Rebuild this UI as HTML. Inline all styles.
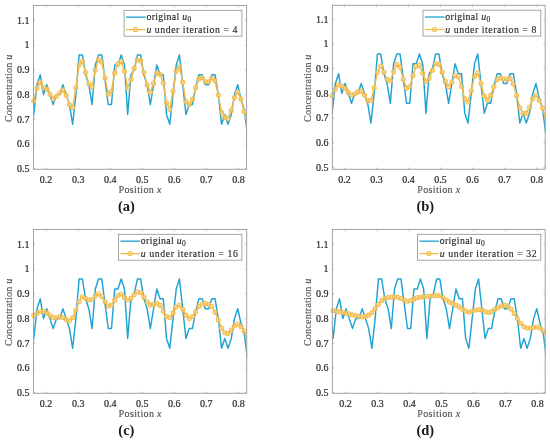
<!DOCTYPE html>
<html><head><meta charset="utf-8"><title>figure</title>
<style>
html,body{margin:0;padding:0;background:#fff;}
body{width:550px;height:441px;overflow:hidden;}
svg{display:block;}
.t{font-family:"Liberation Serif",serif;font-size:10px;fill:#2c2c2c;stroke:#2c2c2c;stroke-width:0.22px;}
.l{font-family:"Liberation Serif",serif;font-size:10.1px;fill:#4c4c4c;stroke:#4c4c4c;stroke-width:0.12px;}
.g{font-family:"Liberation Serif",serif;font-size:9.8px;fill:#262626;stroke:#262626;stroke-width:0.14px;}
.c{font-family:"Liberation Serif",serif;font-weight:bold;font-size:14.5px;fill:#1a1a1a;}
.i{font-style:italic;}
</style></head><body>
<svg width="550" height="441" viewBox="0 0 550 441">
<rect width="550" height="441" fill="#fff"/>
<clipPath id="cp0"><rect x="33.00" y="4.95" width="214.05" height="164.85"/></clipPath>
<g clip-path="url(#cp0)">
<polyline points="30.56,79.79 33.80,114.41 37.04,84.73 40.27,74.84 43.51,94.62 46.75,84.73 49.98,94.62 53.22,104.52 56.46,94.62 59.70,94.62 62.93,84.73 66.17,94.62 69.41,104.52 72.65,124.29 75.88,94.62 79.12,55.06 82.36,55.06 85.60,74.84 88.83,84.73 92.07,104.52 95.31,64.95 98.55,55.06 101.78,55.06 105.02,79.79 108.26,104.52 111.49,104.52 114.73,64.95 117.97,64.95 121.21,55.06 124.44,64.95 127.68,114.41 130.92,74.84 134.16,69.90 137.39,55.06 140.63,55.06 143.87,74.84 147.11,84.73 150.34,104.52 153.58,84.73 156.82,64.95 160.06,74.84 163.29,74.84 166.53,114.41 169.77,124.29 173.01,94.62 176.24,64.95 179.48,55.06 182.72,84.73 185.95,114.41 189.19,104.52 192.43,104.52 195.67,87.21 198.90,74.84 202.14,74.84 205.38,84.73 208.62,84.73 211.85,74.84 215.09,74.84 218.33,94.62 221.57,124.29 224.80,114.41 228.04,124.29 231.28,114.41 234.52,94.62 237.75,84.73 240.99,99.57 244.23,109.46 247.46,134.19" fill="none" stroke="#1ea3d3" stroke-width="1.45" stroke-linejoin="round"/>
<polyline points="30.56,83.40 33.80,100.75 37.04,88.00 40.27,82.62 43.51,87.57 46.75,89.16 49.98,94.30 53.22,98.83 56.46,96.20 59.70,92.79 62.93,90.11 66.17,95.34 69.41,104.50 72.65,107.55 75.88,87.70 79.12,65.09 82.36,61.54 85.60,72.22 88.83,83.77 92.07,86.50 95.31,69.94 98.55,59.66 101.78,61.97 105.02,77.82 108.26,94.04 111.49,91.23 114.73,72.92 117.97,64.15 121.21,61.49 124.44,71.29 127.68,87.67 130.92,79.18 134.16,68.16 137.39,59.69 140.63,60.70 143.87,72.20 147.11,84.68 150.34,92.20 153.58,83.25 156.82,72.85 160.06,74.38 163.29,83.10 166.53,103.05 169.77,109.26 173.01,91.00 176.24,70.81 179.48,66.27 182.72,82.36 185.95,101.46 189.19,104.56 192.43,99.33 195.67,87.85 198.90,78.84 202.14,77.78 205.38,81.70 208.62,81.72 211.85,78.07 215.09,80.76 218.33,95.04 221.57,112.40 224.80,117.34 228.04,118.34 231.28,110.30 234.52,97.45 237.75,91.97 240.99,99.11 244.23,111.38 247.46,125.30" fill="none" stroke="#f4bb48" stroke-width="1.45" stroke-linejoin="round"/>
</g>
<g fill="#fbe6b5" fill-opacity="0.35" stroke="#f4bb48" stroke-width="1.1">
<circle cx="33.80" cy="100.75" r="2.0"/><circle cx="37.04" cy="88.00" r="2.0"/><circle cx="40.27" cy="82.62" r="2.0"/><circle cx="43.51" cy="87.57" r="2.0"/><circle cx="46.75" cy="89.16" r="2.0"/><circle cx="49.98" cy="94.30" r="2.0"/><circle cx="53.22" cy="98.83" r="2.0"/><circle cx="56.46" cy="96.20" r="2.0"/><circle cx="59.70" cy="92.79" r="2.0"/><circle cx="62.93" cy="90.11" r="2.0"/><circle cx="66.17" cy="95.34" r="2.0"/><circle cx="69.41" cy="104.50" r="2.0"/><circle cx="72.65" cy="107.55" r="2.0"/><circle cx="75.88" cy="87.70" r="2.0"/><circle cx="79.12" cy="65.09" r="2.0"/><circle cx="82.36" cy="61.54" r="2.0"/><circle cx="85.60" cy="72.22" r="2.0"/><circle cx="88.83" cy="83.77" r="2.0"/><circle cx="92.07" cy="86.50" r="2.0"/><circle cx="95.31" cy="69.94" r="2.0"/><circle cx="98.55" cy="59.66" r="2.0"/><circle cx="101.78" cy="61.97" r="2.0"/><circle cx="105.02" cy="77.82" r="2.0"/><circle cx="108.26" cy="94.04" r="2.0"/><circle cx="111.49" cy="91.23" r="2.0"/><circle cx="114.73" cy="72.92" r="2.0"/><circle cx="117.97" cy="64.15" r="2.0"/><circle cx="121.21" cy="61.49" r="2.0"/><circle cx="124.44" cy="71.29" r="2.0"/><circle cx="127.68" cy="87.67" r="2.0"/><circle cx="130.92" cy="79.18" r="2.0"/><circle cx="134.16" cy="68.16" r="2.0"/><circle cx="137.39" cy="59.69" r="2.0"/><circle cx="140.63" cy="60.70" r="2.0"/><circle cx="143.87" cy="72.20" r="2.0"/><circle cx="147.11" cy="84.68" r="2.0"/><circle cx="150.34" cy="92.20" r="2.0"/><circle cx="153.58" cy="83.25" r="2.0"/><circle cx="156.82" cy="72.85" r="2.0"/><circle cx="160.06" cy="74.38" r="2.0"/><circle cx="163.29" cy="83.10" r="2.0"/><circle cx="166.53" cy="103.05" r="2.0"/><circle cx="169.77" cy="109.26" r="2.0"/><circle cx="173.01" cy="91.00" r="2.0"/><circle cx="176.24" cy="70.81" r="2.0"/><circle cx="179.48" cy="66.27" r="2.0"/><circle cx="182.72" cy="82.36" r="2.0"/><circle cx="185.95" cy="101.46" r="2.0"/><circle cx="189.19" cy="104.56" r="2.0"/><circle cx="192.43" cy="99.33" r="2.0"/><circle cx="195.67" cy="87.85" r="2.0"/><circle cx="198.90" cy="78.84" r="2.0"/><circle cx="202.14" cy="77.78" r="2.0"/><circle cx="205.38" cy="81.70" r="2.0"/><circle cx="208.62" cy="81.72" r="2.0"/><circle cx="211.85" cy="78.07" r="2.0"/><circle cx="215.09" cy="80.76" r="2.0"/><circle cx="218.33" cy="95.04" r="2.0"/><circle cx="221.57" cy="112.40" r="2.0"/><circle cx="224.80" cy="117.34" r="2.0"/><circle cx="228.04" cy="118.34" r="2.0"/><circle cx="231.28" cy="110.30" r="2.0"/><circle cx="234.52" cy="97.45" r="2.0"/><circle cx="237.75" cy="91.97" r="2.0"/><circle cx="240.99" cy="99.11" r="2.0"/><circle cx="244.23" cy="111.38" r="2.0"/>
</g>
<rect x="33.50" y="5.45" width="213.05" height="163.85" fill="none" stroke="#a2a2a2" stroke-width="1"/>
<text class="t" x="46.10" y="182.80" text-anchor="middle">0.2</text>
<text class="t" x="78.15" y="182.80" text-anchor="middle">0.3</text>
<text class="t" x="110.20" y="182.80" text-anchor="middle">0.4</text>
<text class="t" x="142.25" y="182.80" text-anchor="middle">0.5</text>
<text class="t" x="174.30" y="182.80" text-anchor="middle">0.6</text>
<text class="t" x="206.35" y="182.80" text-anchor="middle">0.7</text>
<text class="t" x="238.40" y="182.80" text-anchor="middle">0.8</text>
<text class="t" x="29.60" y="172.10" text-anchor="end">0.5</text>
<text class="t" x="29.60" y="147.38" text-anchor="end">0.6</text>
<text class="t" x="29.60" y="122.65" text-anchor="end">0.7</text>
<text class="t" x="29.60" y="97.92" text-anchor="end">0.8</text>
<text class="t" x="29.60" y="73.20" text-anchor="end">0.9</text>
<text class="t" x="29.60" y="48.47" text-anchor="end">1</text>
<text class="t" x="29.60" y="23.75" text-anchor="end">1.1</text>
<path d="M46.10 169.30v-1.8M46.10 5.45v1.8M78.15 169.30v-1.8M78.15 5.45v1.8M110.20 169.30v-1.8M110.20 5.45v1.8M142.25 169.30v-1.8M142.25 5.45v1.8M174.30 169.30v-1.8M174.30 5.45v1.8M206.35 169.30v-1.8M206.35 5.45v1.8M238.40 169.30v-1.8M238.40 5.45v1.8M33.50 168.80h1.8M246.55 168.80h-1.8M33.50 144.08h1.8M246.55 144.08h-1.8M33.50 119.35h1.8M246.55 119.35h-1.8M33.50 94.62h1.8M246.55 94.62h-1.8M33.50 69.90h1.8M246.55 69.90h-1.8M33.50 45.17h1.8M246.55 45.17h-1.8M33.50 20.45h1.8M246.55 20.45h-1.8" stroke="#a8a8a8" stroke-width="0.7" fill="none"/>
<text class="l" x="140.03" y="193.10" text-anchor="middle" textLength="43" lengthAdjust="spacing">Position <tspan class="i">x</tspan></text>
<text class="l" transform="translate(12.20 88.38) rotate(-90)" text-anchor="middle" textLength="67.4" lengthAdjust="spacing">Concentration <tspan class="i">u</tspan></text>
<rect x="124.10" y="10.30" width="117.80" height="25.90" fill="#fff" stroke="#8f8f8f" stroke-width="0.8"/>
<line x1="126.00" y1="17.15" x2="145.60" y2="17.15" stroke="#1ea3d3" stroke-width="1.3"/>
<line x1="126.00" y1="29.65" x2="145.60" y2="29.65" stroke="#f4bb48" stroke-width="1.3"/>
<circle cx="135.60" cy="29.65" r="2.0" fill="#fbe6b5" fill-opacity="0.35" stroke="#f4bb48" stroke-width="1.1"/>
<text class="g" x="146.40" y="20.20" textLength="45" lengthAdjust="spacing">original <tspan class="i">u</tspan><tspan font-size="7.6" dy="1.7">0</tspan></text>
<text class="g" x="146.40" y="32.70" textLength="91.0" lengthAdjust="spacing"><tspan class="i">u</tspan> under iteration = 4</text>
<text class="c" x="126.40" y="210.80" text-anchor="middle">(a)</text>
<clipPath id="cp1"><rect x="331.90" y="4.80" width="213.80" height="165.00"/></clipPath>
<g clip-path="url(#cp1)">
<polyline points="328.87,78.62 332.10,113.16 335.34,83.56 338.57,73.69 341.81,93.42 345.05,83.56 348.28,93.42 351.52,103.29 354.76,93.42 357.99,93.42 361.23,83.56 364.47,93.42 367.70,103.29 370.94,123.03 374.17,93.42 377.41,53.95 380.65,53.95 383.88,73.69 387.12,83.56 390.36,103.29 393.59,63.81 396.83,53.95 400.07,53.95 403.30,78.62 406.54,103.29 409.77,103.29 413.01,63.81 416.25,63.81 419.48,53.95 422.72,63.81 425.96,113.16 429.19,73.69 432.43,68.75 435.67,53.95 438.90,53.95 442.14,73.69 445.37,83.56 448.61,103.29 451.85,83.56 455.08,63.81 458.32,73.69 461.56,73.69 464.79,113.16 468.03,123.03 471.27,93.42 474.50,63.81 477.74,53.95 480.97,83.56 484.21,113.16 487.45,103.29 490.68,103.29 493.92,86.02 497.16,73.69 500.39,73.69 503.63,83.56 506.87,83.56 510.10,73.69 513.34,73.69 516.57,93.42 519.81,123.03 523.05,113.16 526.28,123.03 529.52,113.16 532.76,93.42 535.99,83.56 539.23,98.36 542.47,108.23 545.70,132.90" fill="none" stroke="#1ea3d3" stroke-width="1.45" stroke-linejoin="round"/>
<polyline points="328.87,86.96 332.10,95.54 335.34,89.14 338.57,84.73 341.81,85.97 345.05,88.32 348.28,92.42 351.52,95.02 354.76,93.73 357.99,91.67 361.23,91.18 364.47,95.02 367.70,100.60 370.94,100.35 374.17,87.90 377.41,72.01 380.65,65.98 383.88,72.01 387.12,79.27 390.36,80.76 393.59,71.83 396.83,64.39 400.07,67.37 403.30,79.27 406.54,88.08 409.77,86.71 413.01,75.45 416.25,66.25 419.48,65.14 422.72,73.27 425.96,81.50 429.19,78.28 432.43,70.29 435.67,63.52 438.90,64.32 442.14,72.06 445.37,81.58 448.61,86.64 451.85,82.00 455.08,75.45 458.32,76.82 461.56,86.36 464.79,98.91 468.03,102.04 471.27,90.68 474.50,76.32 477.74,72.90 480.97,83.54 484.21,96.09 487.45,99.91 490.68,95.42 493.92,86.54 497.16,79.45 500.39,77.68 503.63,79.05 506.87,79.05 510.10,78.65 513.34,83.81 516.57,95.42 519.81,107.69 523.05,113.55 526.28,113.15 529.52,107.27 532.76,98.81 535.99,95.00 539.23,100.18 542.47,108.09 545.70,119.20" fill="none" stroke="#f4bb48" stroke-width="1.45" stroke-linejoin="round"/>
</g>
<g fill="#fbe6b5" fill-opacity="0.35" stroke="#f4bb48" stroke-width="1.1">
<circle cx="332.10" cy="95.54" r="2.0"/><circle cx="335.34" cy="89.14" r="2.0"/><circle cx="338.57" cy="84.73" r="2.0"/><circle cx="341.81" cy="85.97" r="2.0"/><circle cx="345.05" cy="88.32" r="2.0"/><circle cx="348.28" cy="92.42" r="2.0"/><circle cx="351.52" cy="95.02" r="2.0"/><circle cx="354.76" cy="93.73" r="2.0"/><circle cx="357.99" cy="91.67" r="2.0"/><circle cx="361.23" cy="91.18" r="2.0"/><circle cx="364.47" cy="95.02" r="2.0"/><circle cx="367.70" cy="100.60" r="2.0"/><circle cx="370.94" cy="100.35" r="2.0"/><circle cx="374.17" cy="87.90" r="2.0"/><circle cx="377.41" cy="72.01" r="2.0"/><circle cx="380.65" cy="65.98" r="2.0"/><circle cx="383.88" cy="72.01" r="2.0"/><circle cx="387.12" cy="79.27" r="2.0"/><circle cx="390.36" cy="80.76" r="2.0"/><circle cx="393.59" cy="71.83" r="2.0"/><circle cx="396.83" cy="64.39" r="2.0"/><circle cx="400.07" cy="67.37" r="2.0"/><circle cx="403.30" cy="79.27" r="2.0"/><circle cx="406.54" cy="88.08" r="2.0"/><circle cx="409.77" cy="86.71" r="2.0"/><circle cx="413.01" cy="75.45" r="2.0"/><circle cx="416.25" cy="66.25" r="2.0"/><circle cx="419.48" cy="65.14" r="2.0"/><circle cx="422.72" cy="73.27" r="2.0"/><circle cx="425.96" cy="81.50" r="2.0"/><circle cx="429.19" cy="78.28" r="2.0"/><circle cx="432.43" cy="70.29" r="2.0"/><circle cx="435.67" cy="63.52" r="2.0"/><circle cx="438.90" cy="64.32" r="2.0"/><circle cx="442.14" cy="72.06" r="2.0"/><circle cx="445.37" cy="81.58" r="2.0"/><circle cx="448.61" cy="86.64" r="2.0"/><circle cx="451.85" cy="82.00" r="2.0"/><circle cx="455.08" cy="75.45" r="2.0"/><circle cx="458.32" cy="76.82" r="2.0"/><circle cx="461.56" cy="86.36" r="2.0"/><circle cx="464.79" cy="98.91" r="2.0"/><circle cx="468.03" cy="102.04" r="2.0"/><circle cx="471.27" cy="90.68" r="2.0"/><circle cx="474.50" cy="76.32" r="2.0"/><circle cx="477.74" cy="72.90" r="2.0"/><circle cx="480.97" cy="83.54" r="2.0"/><circle cx="484.21" cy="96.09" r="2.0"/><circle cx="487.45" cy="99.91" r="2.0"/><circle cx="490.68" cy="95.42" r="2.0"/><circle cx="493.92" cy="86.54" r="2.0"/><circle cx="497.16" cy="79.45" r="2.0"/><circle cx="500.39" cy="77.68" r="2.0"/><circle cx="503.63" cy="79.05" r="2.0"/><circle cx="506.87" cy="79.05" r="2.0"/><circle cx="510.10" cy="78.65" r="2.0"/><circle cx="513.34" cy="83.81" r="2.0"/><circle cx="516.57" cy="95.42" r="2.0"/><circle cx="519.81" cy="107.69" r="2.0"/><circle cx="523.05" cy="113.55" r="2.0"/><circle cx="526.28" cy="113.15" r="2.0"/><circle cx="529.52" cy="107.27" r="2.0"/><circle cx="532.76" cy="98.81" r="2.0"/><circle cx="535.99" cy="95.00" r="2.0"/><circle cx="539.23" cy="100.18" r="2.0"/><circle cx="542.47" cy="108.09" r="2.0"/>
</g>
<rect x="332.40" y="5.30" width="212.80" height="164.00" fill="none" stroke="#a2a2a2" stroke-width="1"/>
<text class="t" x="344.40" y="182.80" text-anchor="middle">0.2</text>
<text class="t" x="376.44" y="182.80" text-anchor="middle">0.3</text>
<text class="t" x="408.48" y="182.80" text-anchor="middle">0.4</text>
<text class="t" x="440.52" y="182.80" text-anchor="middle">0.5</text>
<text class="t" x="472.56" y="182.80" text-anchor="middle">0.6</text>
<text class="t" x="504.60" y="182.80" text-anchor="middle">0.7</text>
<text class="t" x="536.64" y="182.80" text-anchor="middle">0.8</text>
<text class="t" x="328.50" y="170.75" text-anchor="end">0.5</text>
<text class="t" x="328.50" y="146.08" text-anchor="end">0.6</text>
<text class="t" x="328.50" y="121.40" text-anchor="end">0.7</text>
<text class="t" x="328.50" y="96.72" text-anchor="end">0.8</text>
<text class="t" x="328.50" y="72.05" text-anchor="end">0.9</text>
<text class="t" x="328.50" y="47.38" text-anchor="end">1</text>
<text class="t" x="328.50" y="22.70" text-anchor="end">1.1</text>
<path d="M344.40 169.30v-1.8M344.40 5.30v1.8M376.44 169.30v-1.8M376.44 5.30v1.8M408.48 169.30v-1.8M408.48 5.30v1.8M440.52 169.30v-1.8M440.52 5.30v1.8M472.56 169.30v-1.8M472.56 5.30v1.8M504.60 169.30v-1.8M504.60 5.30v1.8M536.64 169.30v-1.8M536.64 5.30v1.8M332.40 167.45h1.8M545.20 167.45h-1.8M332.40 142.78h1.8M545.20 142.78h-1.8M332.40 118.10h1.8M545.20 118.10h-1.8M332.40 93.42h1.8M545.20 93.42h-1.8M332.40 68.75h1.8M545.20 68.75h-1.8M332.40 44.08h1.8M545.20 44.08h-1.8M332.40 19.40h1.8M545.20 19.40h-1.8" stroke="#a8a8a8" stroke-width="0.7" fill="none"/>
<text class="l" x="438.80" y="193.10" text-anchor="middle" textLength="43" lengthAdjust="spacing">Position <tspan class="i">x</tspan></text>
<text class="l" transform="translate(311.10 88.30) rotate(-90)" text-anchor="middle" textLength="67.4" lengthAdjust="spacing">Concentration <tspan class="i">u</tspan></text>
<rect x="423.00" y="10.15" width="117.80" height="25.90" fill="#fff" stroke="#8f8f8f" stroke-width="0.8"/>
<line x1="424.90" y1="17.00" x2="444.50" y2="17.00" stroke="#1ea3d3" stroke-width="1.3"/>
<line x1="424.90" y1="29.50" x2="444.50" y2="29.50" stroke="#f4bb48" stroke-width="1.3"/>
<circle cx="434.50" cy="29.50" r="2.0" fill="#fbe6b5" fill-opacity="0.35" stroke="#f4bb48" stroke-width="1.1"/>
<text class="g" x="445.30" y="20.05" textLength="45" lengthAdjust="spacing">original <tspan class="i">u</tspan><tspan font-size="7.6" dy="1.7">0</tspan></text>
<text class="g" x="445.30" y="32.55" textLength="91.0" lengthAdjust="spacing"><tspan class="i">u</tspan> under iteration = 8</text>
<text class="c" x="425.30" y="210.80" text-anchor="middle">(b)</text>
<clipPath id="cp2"><rect x="33.00" y="228.95" width="214.20" height="164.85"/></clipPath>
<g clip-path="url(#cp2)">
<polyline points="30.56,303.79 33.80,338.41 37.04,308.74 40.27,298.84 43.51,318.62 46.75,308.74 49.98,318.62 53.22,328.51 56.46,318.62 59.70,318.62 62.93,308.74 66.17,318.62 69.41,328.51 72.65,348.29 75.88,318.62 79.12,279.06 82.36,279.06 85.60,298.84 88.83,308.74 92.07,328.51 95.31,288.95 98.55,279.06 101.78,279.06 105.02,303.79 108.26,328.51 111.49,328.51 114.73,288.95 117.97,288.95 121.21,279.06 124.44,288.95 127.68,338.41 130.92,298.84 134.16,293.90 137.39,279.06 140.63,279.06 143.87,298.84 147.11,308.74 150.34,328.51 153.58,308.74 156.82,288.95 160.06,298.84 163.29,298.84 166.53,338.41 169.77,348.29 173.01,318.62 176.24,288.95 179.48,279.06 182.72,308.74 185.95,338.41 189.19,328.51 192.43,328.51 195.67,311.21 198.90,298.84 202.14,298.84 205.38,308.74 208.62,308.74 211.85,298.84 215.09,298.84 218.33,318.62 221.57,348.29 224.80,338.41 228.04,348.29 231.28,338.41 234.52,318.62 237.75,308.74 240.99,323.57 244.23,333.46 247.46,358.19" fill="none" stroke="#1ea3d3" stroke-width="1.45" stroke-linejoin="round"/>
<polyline points="30.56,316.32 33.80,315.20 37.04,313.47 40.27,311.48 43.51,311.36 46.75,312.85 49.98,315.20 53.22,317.56 56.46,317.56 59.70,316.82 62.93,317.56 66.17,319.54 69.41,320.78 72.65,317.56 75.88,310.00 79.12,301.44 82.36,296.73 85.60,298.22 88.83,299.95 92.07,299.46 95.31,295.98 98.55,293.75 101.78,296.48 105.02,301.44 108.26,306.00 111.49,305.01 114.73,299.95 117.97,295.49 121.21,294.00 124.44,297.47 127.68,299.95 130.92,298.34 134.16,294.50 137.39,291.77 140.63,292.51 143.87,296.98 147.11,301.94 150.34,304.91 153.58,304.42 156.82,303.42 160.06,305.41 163.29,310.99 166.53,316.57 169.77,317.56 173.01,313.10 176.24,307.02 179.48,305.01 182.72,309.25 185.95,315.08 189.19,318.55 192.43,316.57 195.67,311.61 198.90,306.50 202.14,303.99 205.38,303.42 208.62,304.49 211.85,306.50 215.09,312.10 218.33,320.04 221.57,328.10 224.80,332.69 228.04,333.51 231.28,329.96 234.52,325.99 237.75,324.01 240.99,326.49 244.23,330.95 247.46,338.64" fill="none" stroke="#f4bb48" stroke-width="1.45" stroke-linejoin="round"/>
</g>
<g fill="#fbe6b5" fill-opacity="0.35" stroke="#f4bb48" stroke-width="1.1">
<circle cx="33.80" cy="315.20" r="2.0"/><circle cx="37.04" cy="313.47" r="2.0"/><circle cx="40.27" cy="311.48" r="2.0"/><circle cx="43.51" cy="311.36" r="2.0"/><circle cx="46.75" cy="312.85" r="2.0"/><circle cx="49.98" cy="315.20" r="2.0"/><circle cx="53.22" cy="317.56" r="2.0"/><circle cx="56.46" cy="317.56" r="2.0"/><circle cx="59.70" cy="316.82" r="2.0"/><circle cx="62.93" cy="317.56" r="2.0"/><circle cx="66.17" cy="319.54" r="2.0"/><circle cx="69.41" cy="320.78" r="2.0"/><circle cx="72.65" cy="317.56" r="2.0"/><circle cx="75.88" cy="310.00" r="2.0"/><circle cx="79.12" cy="301.44" r="2.0"/><circle cx="82.36" cy="296.73" r="2.0"/><circle cx="85.60" cy="298.22" r="2.0"/><circle cx="88.83" cy="299.95" r="2.0"/><circle cx="92.07" cy="299.46" r="2.0"/><circle cx="95.31" cy="295.98" r="2.0"/><circle cx="98.55" cy="293.75" r="2.0"/><circle cx="101.78" cy="296.48" r="2.0"/><circle cx="105.02" cy="301.44" r="2.0"/><circle cx="108.26" cy="306.00" r="2.0"/><circle cx="111.49" cy="305.01" r="2.0"/><circle cx="114.73" cy="299.95" r="2.0"/><circle cx="117.97" cy="295.49" r="2.0"/><circle cx="121.21" cy="294.00" r="2.0"/><circle cx="124.44" cy="297.47" r="2.0"/><circle cx="127.68" cy="299.95" r="2.0"/><circle cx="130.92" cy="298.34" r="2.0"/><circle cx="134.16" cy="294.50" r="2.0"/><circle cx="137.39" cy="291.77" r="2.0"/><circle cx="140.63" cy="292.51" r="2.0"/><circle cx="143.87" cy="296.98" r="2.0"/><circle cx="147.11" cy="301.94" r="2.0"/><circle cx="150.34" cy="304.91" r="2.0"/><circle cx="153.58" cy="304.42" r="2.0"/><circle cx="156.82" cy="303.42" r="2.0"/><circle cx="160.06" cy="305.41" r="2.0"/><circle cx="163.29" cy="310.99" r="2.0"/><circle cx="166.53" cy="316.57" r="2.0"/><circle cx="169.77" cy="317.56" r="2.0"/><circle cx="173.01" cy="313.10" r="2.0"/><circle cx="176.24" cy="307.02" r="2.0"/><circle cx="179.48" cy="305.01" r="2.0"/><circle cx="182.72" cy="309.25" r="2.0"/><circle cx="185.95" cy="315.08" r="2.0"/><circle cx="189.19" cy="318.55" r="2.0"/><circle cx="192.43" cy="316.57" r="2.0"/><circle cx="195.67" cy="311.61" r="2.0"/><circle cx="198.90" cy="306.50" r="2.0"/><circle cx="202.14" cy="303.99" r="2.0"/><circle cx="205.38" cy="303.42" r="2.0"/><circle cx="208.62" cy="304.49" r="2.0"/><circle cx="211.85" cy="306.50" r="2.0"/><circle cx="215.09" cy="312.10" r="2.0"/><circle cx="218.33" cy="320.04" r="2.0"/><circle cx="221.57" cy="328.10" r="2.0"/><circle cx="224.80" cy="332.69" r="2.0"/><circle cx="228.04" cy="333.51" r="2.0"/><circle cx="231.28" cy="329.96" r="2.0"/><circle cx="234.52" cy="325.99" r="2.0"/><circle cx="237.75" cy="324.01" r="2.0"/><circle cx="240.99" cy="326.49" r="2.0"/><circle cx="244.23" cy="330.95" r="2.0"/>
</g>
<rect x="33.50" y="229.45" width="213.20" height="163.85" fill="none" stroke="#a2a2a2" stroke-width="1"/>
<text class="t" x="46.10" y="406.80" text-anchor="middle">0.2</text>
<text class="t" x="78.15" y="406.80" text-anchor="middle">0.3</text>
<text class="t" x="110.20" y="406.80" text-anchor="middle">0.4</text>
<text class="t" x="142.25" y="406.80" text-anchor="middle">0.5</text>
<text class="t" x="174.30" y="406.80" text-anchor="middle">0.6</text>
<text class="t" x="206.35" y="406.80" text-anchor="middle">0.7</text>
<text class="t" x="238.40" y="406.80" text-anchor="middle">0.8</text>
<text class="t" x="29.60" y="396.10" text-anchor="end">0.5</text>
<text class="t" x="29.60" y="371.38" text-anchor="end">0.6</text>
<text class="t" x="29.60" y="346.65" text-anchor="end">0.7</text>
<text class="t" x="29.60" y="321.93" text-anchor="end">0.8</text>
<text class="t" x="29.60" y="297.20" text-anchor="end">0.9</text>
<text class="t" x="29.60" y="272.47" text-anchor="end">1</text>
<text class="t" x="29.60" y="247.75" text-anchor="end">1.1</text>
<path d="M46.10 393.30v-1.8M46.10 229.45v1.8M78.15 393.30v-1.8M78.15 229.45v1.8M110.20 393.30v-1.8M110.20 229.45v1.8M142.25 393.30v-1.8M142.25 229.45v1.8M174.30 393.30v-1.8M174.30 229.45v1.8M206.35 393.30v-1.8M206.35 229.45v1.8M238.40 393.30v-1.8M238.40 229.45v1.8M33.50 392.80h1.8M246.70 392.80h-1.8M33.50 368.07h1.8M246.70 368.07h-1.8M33.50 343.35h1.8M246.70 343.35h-1.8M33.50 318.62h1.8M246.70 318.62h-1.8M33.50 293.90h1.8M246.70 293.90h-1.8M33.50 269.17h1.8M246.70 269.17h-1.8M33.50 244.45h1.8M246.70 244.45h-1.8" stroke="#a8a8a8" stroke-width="0.7" fill="none"/>
<text class="l" x="140.10" y="417.10" text-anchor="middle" textLength="43" lengthAdjust="spacing">Position <tspan class="i">x</tspan></text>
<text class="l" transform="translate(12.20 312.38) rotate(-90)" text-anchor="middle" textLength="67.4" lengthAdjust="spacing">Concentration <tspan class="i">u</tspan></text>
<rect x="118.50" y="234.30" width="123.40" height="25.90" fill="#fff" stroke="#8f8f8f" stroke-width="0.8"/>
<line x1="120.40" y1="241.15" x2="140.00" y2="241.15" stroke="#1ea3d3" stroke-width="1.3"/>
<line x1="120.40" y1="253.65" x2="140.00" y2="253.65" stroke="#f4bb48" stroke-width="1.3"/>
<circle cx="130.00" cy="253.65" r="2.0" fill="#fbe6b5" fill-opacity="0.35" stroke="#f4bb48" stroke-width="1.1"/>
<text class="g" x="140.80" y="244.20" textLength="45" lengthAdjust="spacing">original <tspan class="i">u</tspan><tspan font-size="7.6" dy="1.7">0</tspan></text>
<text class="g" x="140.80" y="256.70" textLength="97.0" lengthAdjust="spacing"><tspan class="i">u</tspan> under iteration = 16</text>
<text class="c" x="126.40" y="434.80" text-anchor="middle">(c)</text>
<clipPath id="cp3"><rect x="331.90" y="228.95" width="213.80" height="164.85"/></clipPath>
<g clip-path="url(#cp3)">
<polyline points="329.88,303.79 333.11,338.41 336.35,308.74 339.58,298.84 342.81,318.62 346.05,308.74 349.28,318.62 352.51,328.51 355.75,318.62 358.98,318.62 362.21,308.74 365.45,318.62 368.68,328.51 371.91,348.29 375.15,318.62 378.38,279.06 381.61,279.06 384.84,298.84 388.08,308.74 391.31,328.51 394.54,288.95 397.78,279.06 401.01,279.06 404.24,303.79 407.48,328.51 410.71,328.51 413.94,288.95 417.18,288.95 420.41,279.06 423.64,288.95 426.88,338.41 430.11,298.84 433.34,293.90 436.58,279.06 439.81,279.06 443.04,298.84 446.27,308.74 449.51,328.51 452.74,308.74 455.97,288.95 459.21,298.84 462.44,298.84 465.67,338.41 468.91,348.29 472.14,318.62 475.37,288.95 478.61,279.06 481.84,308.74 485.07,338.41 488.31,328.51 491.54,328.51 494.77,311.21 498.01,298.84 501.24,298.84 504.47,308.74 507.70,308.74 510.94,298.84 514.17,298.84 517.40,318.62 520.64,348.29 523.87,338.41 527.10,348.29 530.34,338.41 533.57,318.62 536.80,308.74 540.04,323.57 543.27,333.46 546.50,358.19" fill="none" stroke="#1ea3d3" stroke-width="1.45" stroke-linejoin="round"/>
<polyline points="329.88,309.87 333.11,310.49 336.35,311.11 339.58,311.86 342.81,312.48 346.05,313.10 349.28,313.96 352.51,314.83 355.75,315.58 358.98,316.32 362.21,316.82 365.45,316.57 368.68,315.08 371.91,312.60 375.15,308.51 378.38,304.49 381.61,300.45 384.84,298.22 388.08,297.47 391.31,296.98 394.54,296.73 397.78,297.22 401.01,298.46 404.24,299.95 407.48,301.19 410.71,300.45 413.94,298.96 417.18,297.72 420.41,296.98 423.64,296.73 426.88,296.48 430.11,296.11 433.34,295.49 436.58,295.24 439.81,295.74 443.04,297.47 446.27,299.95 449.51,301.94 452.74,303.42 455.97,305.16 459.21,306.90 462.44,308.88 465.67,310.99 468.91,311.98 472.14,311.36 475.37,310.00 478.61,309.50 481.84,310.00 485.07,311.48 488.31,312.60 491.54,311.48 494.77,309.50 498.01,307.52 501.24,306.00 504.47,305.16 507.70,306.00 510.94,309.00 514.17,313.49 517.40,318.55 520.64,323.26 523.87,326.49 527.10,327.98 530.34,327.98 533.57,327.36 536.80,326.98 540.04,327.98 543.27,330.95 546.50,334.92" fill="none" stroke="#f4bb48" stroke-width="1.45" stroke-linejoin="round"/>
</g>
<g fill="#fbe6b5" fill-opacity="0.35" stroke="#f4bb48" stroke-width="1.1">
<circle cx="333.11" cy="310.49" r="2.0"/><circle cx="336.35" cy="311.11" r="2.0"/><circle cx="339.58" cy="311.86" r="2.0"/><circle cx="342.81" cy="312.48" r="2.0"/><circle cx="346.05" cy="313.10" r="2.0"/><circle cx="349.28" cy="313.96" r="2.0"/><circle cx="352.51" cy="314.83" r="2.0"/><circle cx="355.75" cy="315.58" r="2.0"/><circle cx="358.98" cy="316.32" r="2.0"/><circle cx="362.21" cy="316.82" r="2.0"/><circle cx="365.45" cy="316.57" r="2.0"/><circle cx="368.68" cy="315.08" r="2.0"/><circle cx="371.91" cy="312.60" r="2.0"/><circle cx="375.15" cy="308.51" r="2.0"/><circle cx="378.38" cy="304.49" r="2.0"/><circle cx="381.61" cy="300.45" r="2.0"/><circle cx="384.84" cy="298.22" r="2.0"/><circle cx="388.08" cy="297.47" r="2.0"/><circle cx="391.31" cy="296.98" r="2.0"/><circle cx="394.54" cy="296.73" r="2.0"/><circle cx="397.78" cy="297.22" r="2.0"/><circle cx="401.01" cy="298.46" r="2.0"/><circle cx="404.24" cy="299.95" r="2.0"/><circle cx="407.48" cy="301.19" r="2.0"/><circle cx="410.71" cy="300.45" r="2.0"/><circle cx="413.94" cy="298.96" r="2.0"/><circle cx="417.18" cy="297.72" r="2.0"/><circle cx="420.41" cy="296.98" r="2.0"/><circle cx="423.64" cy="296.73" r="2.0"/><circle cx="426.88" cy="296.48" r="2.0"/><circle cx="430.11" cy="296.11" r="2.0"/><circle cx="433.34" cy="295.49" r="2.0"/><circle cx="436.58" cy="295.24" r="2.0"/><circle cx="439.81" cy="295.74" r="2.0"/><circle cx="443.04" cy="297.47" r="2.0"/><circle cx="446.27" cy="299.95" r="2.0"/><circle cx="449.51" cy="301.94" r="2.0"/><circle cx="452.74" cy="303.42" r="2.0"/><circle cx="455.97" cy="305.16" r="2.0"/><circle cx="459.21" cy="306.90" r="2.0"/><circle cx="462.44" cy="308.88" r="2.0"/><circle cx="465.67" cy="310.99" r="2.0"/><circle cx="468.91" cy="311.98" r="2.0"/><circle cx="472.14" cy="311.36" r="2.0"/><circle cx="475.37" cy="310.00" r="2.0"/><circle cx="478.61" cy="309.50" r="2.0"/><circle cx="481.84" cy="310.00" r="2.0"/><circle cx="485.07" cy="311.48" r="2.0"/><circle cx="488.31" cy="312.60" r="2.0"/><circle cx="491.54" cy="311.48" r="2.0"/><circle cx="494.77" cy="309.50" r="2.0"/><circle cx="498.01" cy="307.52" r="2.0"/><circle cx="501.24" cy="306.00" r="2.0"/><circle cx="504.47" cy="305.16" r="2.0"/><circle cx="507.70" cy="306.00" r="2.0"/><circle cx="510.94" cy="309.00" r="2.0"/><circle cx="514.17" cy="313.49" r="2.0"/><circle cx="517.40" cy="318.55" r="2.0"/><circle cx="520.64" cy="323.26" r="2.0"/><circle cx="523.87" cy="326.49" r="2.0"/><circle cx="527.10" cy="327.98" r="2.0"/><circle cx="530.34" cy="327.98" r="2.0"/><circle cx="533.57" cy="327.36" r="2.0"/><circle cx="536.80" cy="326.98" r="2.0"/><circle cx="540.04" cy="327.98" r="2.0"/><circle cx="543.27" cy="330.95" r="2.0"/>
</g>
<rect x="332.40" y="229.45" width="212.80" height="163.85" fill="none" stroke="#a2a2a2" stroke-width="1"/>
<text class="t" x="345.40" y="406.80" text-anchor="middle">0.2</text>
<text class="t" x="377.41" y="406.80" text-anchor="middle">0.3</text>
<text class="t" x="409.42" y="406.80" text-anchor="middle">0.4</text>
<text class="t" x="441.43" y="406.80" text-anchor="middle">0.5</text>
<text class="t" x="473.43" y="406.80" text-anchor="middle">0.6</text>
<text class="t" x="505.44" y="406.80" text-anchor="middle">0.7</text>
<text class="t" x="537.45" y="406.80" text-anchor="middle">0.8</text>
<text class="t" x="328.50" y="396.10" text-anchor="end">0.5</text>
<text class="t" x="328.50" y="371.38" text-anchor="end">0.6</text>
<text class="t" x="328.50" y="346.65" text-anchor="end">0.7</text>
<text class="t" x="328.50" y="321.93" text-anchor="end">0.8</text>
<text class="t" x="328.50" y="297.20" text-anchor="end">0.9</text>
<text class="t" x="328.50" y="272.47" text-anchor="end">1</text>
<text class="t" x="328.50" y="247.75" text-anchor="end">1.1</text>
<path d="M345.40 393.30v-1.8M345.40 229.45v1.8M377.41 393.30v-1.8M377.41 229.45v1.8M409.42 393.30v-1.8M409.42 229.45v1.8M441.43 393.30v-1.8M441.43 229.45v1.8M473.43 393.30v-1.8M473.43 229.45v1.8M505.44 393.30v-1.8M505.44 229.45v1.8M537.45 393.30v-1.8M537.45 229.45v1.8M332.40 392.80h1.8M545.20 392.80h-1.8M332.40 368.07h1.8M545.20 368.07h-1.8M332.40 343.35h1.8M545.20 343.35h-1.8M332.40 318.62h1.8M545.20 318.62h-1.8M332.40 293.90h1.8M545.20 293.90h-1.8M332.40 269.17h1.8M545.20 269.17h-1.8M332.40 244.45h1.8M545.20 244.45h-1.8" stroke="#a8a8a8" stroke-width="0.7" fill="none"/>
<text class="l" x="438.80" y="417.10" text-anchor="middle" textLength="43" lengthAdjust="spacing">Position <tspan class="i">x</tspan></text>
<text class="l" transform="translate(311.10 312.38) rotate(-90)" text-anchor="middle" textLength="67.4" lengthAdjust="spacing">Concentration <tspan class="i">u</tspan></text>
<rect x="417.40" y="234.30" width="123.40" height="25.90" fill="#fff" stroke="#8f8f8f" stroke-width="0.8"/>
<line x1="419.30" y1="241.15" x2="438.90" y2="241.15" stroke="#1ea3d3" stroke-width="1.3"/>
<line x1="419.30" y1="253.65" x2="438.90" y2="253.65" stroke="#f4bb48" stroke-width="1.3"/>
<circle cx="428.90" cy="253.65" r="2.0" fill="#fbe6b5" fill-opacity="0.35" stroke="#f4bb48" stroke-width="1.1"/>
<text class="g" x="439.70" y="244.20" textLength="45" lengthAdjust="spacing">original <tspan class="i">u</tspan><tspan font-size="7.6" dy="1.7">0</tspan></text>
<text class="g" x="439.70" y="256.70" textLength="97.0" lengthAdjust="spacing"><tspan class="i">u</tspan> under iteration = 32</text>
<text class="c" x="425.30" y="434.80" text-anchor="middle">(d)</text>
</svg>
</body></html>
